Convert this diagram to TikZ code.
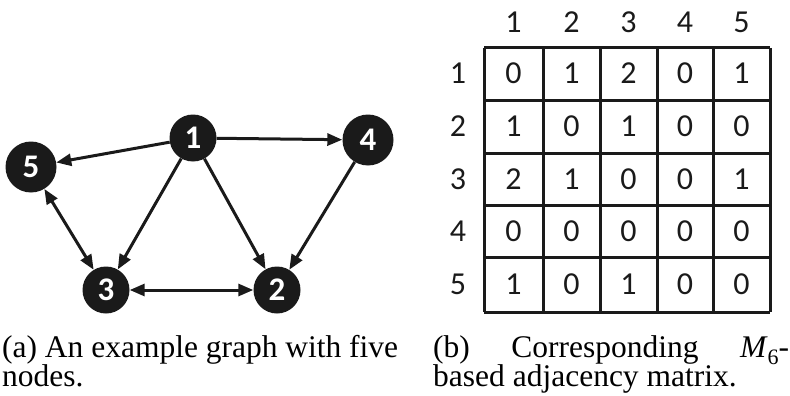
\documentclass[tikz,border=0pt]{standalone}
\usepackage{fontspec}
\setmainfont{Liberation Serif}
\newfontfamily\calib{Carlito}
\usetikzlibrary{arrows.meta}
\definecolor{ink}{HTML}{1A1A1A}
\begin{document}
\begin{tikzpicture}[x=1pt,y=-1pt,
  vtx/.style={circle,fill=ink,text=white,inner sep=0pt,minimum size=47pt,font=\calib\bfseries\fontsize{33}{33}\selectfont},
  bigvtx/.style={vtx,minimum size=51pt},
  edge/.style={draw=ink,line width=3pt,-{Triangle[length=15pt,width=12pt]}},
  bedge/.style={draw=ink,line width=3pt,{Triangle[length=15pt,width=12pt]}-{Triangle[length=15pt,width=12pt]}},
  dig/.style={anchor=base,inner sep=0pt,text=ink,font=\calib\fontsize{32}{32}\selectfont},
  gridline/.style={draw=ink,line width=3pt},
  captext/.style={anchor=base west,inner sep=0pt,font=\fontsize{31.5}{29}\selectfont}]
\useasboundingbox (0,0) rectangle (790,396);

% graph
\node[vtx]    (n1) at (193,138) {1};
\node[bigvtx] (n4) at (368,140) {4};
\node[bigvtx] (n5) at (31,167)  {5};
\node[vtx]    (n3) at (106,290) {3};
\node[vtx]    (n2) at (277,290) {2};

\draw[edge] (n1) -- (n5);
\draw[edge] (n1) -- (n4);
\draw[edge] (n1) -- (n3);
\draw[edge] (n1) -- (n2);
\draw[edge] (n4) -- (n2);
\draw[bedge] (n5) -- (n3);
\draw[bedge] (n3) -- (n2);

% matrix grid
\foreach \y in {48,100,153,205,257,312}
  \draw[gridline] (484,\y) -- (770,\y);
\foreach \x in {484,543,600,657,713,770}
  \draw[gridline] (\x,48) -- (\x,312);

% headers
\foreach \x [count=\i] in {513.5,571.5,628.5,685,741.5}
  \node[dig] (c\i) at (\x,33) {\i};
\foreach \y [count=\i] in {74,126.5,179,231,284.5}
  \node[dig] (r\i) at (458,\y+10) {\i};

% cells
\foreach \row [count=\i] in {{0,1,2,0,1},{1,0,1,0,0},{2,1,0,0,1},{0,0,0,0,0},{1,0,1,0,0}}{
  \foreach \v [count=\j] in \row {
    \pgfmathsetmacro{\cx}{{513.5,571.5,628.5,685,741.5}[\j-1]}
    \pgfmathsetmacro{\cy}{{74,126.5,179,231,284.5}[\i-1]}
    \node[dig] (m\i\j) at (\cx,\cy+10) {\v};
  }
}

% captions
\node[captext] (capa1) at (2,357) {\makebox[396pt][s]{(a) An example graph with five}};
\node[captext] (capa2) at (2,386) {nodes.};
\node[captext] (capb1) at (433,357) {\makebox[356pt][s]{(b) Corresponding \textit{M}\raisebox{-0.25em}{\fontsize{22}{22}\selectfont 6}-}};
\node[captext] (capb2) at (433,386) {based adjacency matrix.};
\end{tikzpicture}
\end{document}
